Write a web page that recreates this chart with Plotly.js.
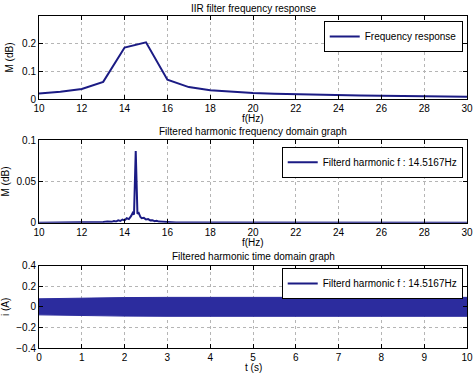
<!DOCTYPE html>
<html><head><meta charset="utf-8">
<script src="https://cdn.plot.ly/plotly-3.0.1.min.js"></script>
<style>html,body{margin:0;padding:0;background:#fff}#c{width:474px;height:375px}</style>
</head><body><div id="c"></div>
<script>
// Panel 1: IIR filter frequency response
const respFreq = [10,11,12,13,14,15,16,17,18,19,20,21,22,23,24,25,26,27,28,29,30];
const respMag  = [0.020,0.026,0.036,0.062,0.186,0.205,0.070,0.043,0.032,0.026,0.022,0.019,0.017,0.016,0.014,0.013,0.012,0.011,0.010,0.009,0.008];
// Panel 2: filtered harmonic spectrum
const specFreq = [10,12,12.5,13,13.2,13.4,13.5,13.6,13.7,13.8,13.9,14.0,14.1,14.2,14.3,14.38,14.44,14.52,14.6,14.66,14.74,14.8,14.9,15.0,15.1,15.2,15.3,15.4,15.5,15.6,15.8,16.0,16.4,17,20,30];
const specMag  = [0,0.0003,0.0006,0.001,0.0016,0.0012,0.0022,0.0016,0.003,0.0022,0.004,0.003,0.0055,0.0045,0.008,0.012,0.010,0.087,0.011,0.012,0.007,0.0055,0.006,0.004,0.0045,0.003,0.0032,0.002,0.0024,0.0015,0.0012,0.0008,0.0005,0.0003,0.0001,0];
// Panel 3: time-domain oscillation envelope (dense 14.5167 Hz sine)
const envTime = [0,0.5,1,1.5,2,3,10];
const envHigh = [0.078,0.082,0.086,0.088,0.090,0.092,0.092];
const envLow  = [-0.078,-0.082,-0.086,-0.088,-0.090,-0.092,-0.092];
const legend1 = 'Frequency response';
const legend2 = 'Filterd harmonic f : 14.5167Hz';
const legend3 = 'Filterd harmonic f : 14.5167Hz';
const titles = ['IIR filter frequency response','Filtered harmonic frequency domain graph','Filtered harmonic time domain graph'];
const xTitles = ['f(Hz)','f(Hz)','t (s)'];

const navy = '#1b1b84';
const bandColor = '#2c2c9e';
const font = {family:'Liberation Sans, Arial, sans-serif', size:10, color:'#000'};

const traces = [
  {x:respFreq, y:respMag, mode:'lines', line:{color:navy,width:2}, name:legend1, xaxis:'x', yaxis:'y', legend:'legend'},
  {x:specFreq, y:specMag, mode:'lines', line:{color:navy,width:2}, name:legend2, xaxis:'x2', yaxis:'y2', legend:'legend2'},
  {x:envTime, y:envLow, mode:'lines', line:{color:bandColor,width:1}, showlegend:false, xaxis:'x3', yaxis:'y3', hoverinfo:'skip'},
  {x:envTime, y:envHigh, mode:'lines', line:{color:bandColor,width:1}, fill:'tonexty', fillcolor:bandColor, showlegend:false, xaxis:'x3', yaxis:'y3'},
  {x:[null], y:[null], mode:'lines', line:{color:navy,width:2}, name:legend3, xaxis:'x3', yaxis:'y3', legend:'legend3'}
];

function xax(range, dtick, anchor){
  return {range:range, dtick:dtick, anchor:anchor, showline:true, linecolor:'#000', linewidth:1, mirror:'ticks',
    ticks:'inside', ticklen:4, tickcolor:'#000', showgrid:true, gridcolor:'#b5b5b5', griddash:'dot', gridwidth:1,
    zeroline:false, tickfont:font, domain:[0,1]};
}
function yax(range, tickvals, ticktext, dom, anchor, title){
  return {range:range, tickvals:tickvals, ticktext:ticktext, anchor:anchor, domain:dom, showline:true, linecolor:'#000', linewidth:1,
    mirror:'ticks', ticks:'inside', ticklen:4, tickcolor:'#000', showgrid:true, gridcolor:'#b5b5b5', griddash:'dot', gridwidth:1,
    zeroline:false, tickfont:font, title:{text:title, font:font, standoff:6}};
}
const legBox = {bgcolor:'#fff', bordercolor:'#000', borderwidth:1, font:font, xanchor:'right', yanchor:'top', x:0.99, tracegroupgap:0, itemwidth:30};

const annFont = font;
const layout = {
  width:474, height:375, margin:{l:39, r:7, t:16, b:27},
  paper_bgcolor:'#fff', plot_bgcolor:'#fff', font:font,
  xaxis: xax([10,30],2,'y'),
  yaxis: yax([0,0.3],[0,0.1,0.2],['0','0.1','0.2'],[0.75,1],'x','M (dB)'),
  xaxis2: xax([10,30],2,'y2'),
  yaxis2: yax([0,0.1],[0,0.05,0.1],['0','0.05','0.1'],[0.377,0.626],'x2','M (dB)'),
  xaxis3: xax([0,10],1,'y3'),
  yaxis3: yax([-0.4,0.4],[-0.4,-0.2,0,0.2,0.4],['\u22120.4','\u22120.2','0','0.2','0.4'],[0,0.248],'x3','i (A)'),
  legend: Object.assign({}, legBox, {y:0.985}),
  legend2: Object.assign({}, legBox, {y:0.606}),
  legend3: Object.assign({}, legBox, {y:0.241}),
  annotations: [
    {text:titles[0], xref:'paper', yref:'paper', x:0.5, y:1, yshift:8, showarrow:false, font:annFont, yanchor:'middle'},
    {text:titles[1], xref:'paper', yref:'paper', x:0.5, y:0.626, yshift:9, showarrow:false, font:annFont, yanchor:'middle'},
    {text:titles[2], xref:'paper', yref:'paper', x:0.5, y:0.248, yshift:9, showarrow:false, font:annFont, yanchor:'middle'},
    {text:xTitles[0], xref:'paper', yref:'paper', x:0.5, y:0.75, yshift:-19, showarrow:false, font:annFont, yanchor:'middle'},
    {text:xTitles[1], xref:'paper', yref:'paper', x:0.5, y:0.377, yshift:-20, showarrow:false, font:annFont, yanchor:'middle'},
    {text:xTitles[2], xref:'paper', yref:'paper', x:0.5, y:0, yshift:-19, showarrow:false, font:annFont, yanchor:'middle'}
  ],
  showlegend:true
};
Plotly.newPlot('c', traces, layout, {displayModeBar:false, staticPlot:true});
</script></body></html>
